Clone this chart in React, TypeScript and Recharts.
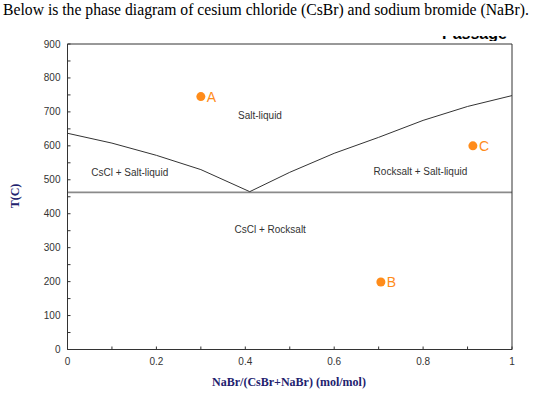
import {
  ComposedChart,
  Line,
  Scatter,
  XAxis,
  YAxis,
  ReferenceLine,
  ReferenceDot,
  LabelList,
} from "recharts";

// left liquidus (CsBr side) down to the eutectic
const leftLiquidus = [
  { x: 0, t: 637 },
  { x: 0.1, t: 608 },
  { x: 0.2, t: 572 },
  { x: 0.3, t: 530 },
  { x: 0.41, t: 465 },
];

// right liquidus (NaBr side)
const rightLiquidus = [
  { x: 0.41, t: 465 },
  { x: 0.5, t: 522 },
  { x: 0.6, t: 578 },
  { x: 0.7, t: 625 },
  { x: 0.8, t: 675 },
  { x: 0.9, t: 716 },
  { x: 1, t: 748 },
];

const eutecticT = 463;

const points = [
  { x: 0.3, t: 745, name: "A" },
  { x: 0.705, t: 199, name: "B" },
  { x: 0.912, t: 600, name: "C" },
];

const regionLabels = [
  { x: 0.433, t: 689, text: "Salt-liquid" },
  { x: 0.14, t: 522, text: "CsCl + Salt-liquid" },
  { x: 0.794, t: 526, text: "Rocksalt + Salt-liquid" },
  { x: 0.456, t: 355, text: "CsCl + Rocksalt" },
];

const xTicks = [0, 0.1, 0.2, 0.3, 0.4, 0.5, 0.6, 0.7, 0.8, 0.9, 1];
const xLabels: Record<string, string> = {
  "0": "0",
  "0.2": "0.2",
  "0.4": "0.4",
  "0.6": "0.6",
  "0.8": "0.8",
  "1": "1",
};
const yTicks = [0, 50, 100, 150, 200, 250, 300, 350, 400, 450, 500, 550, 600, 650, 700, 750, 800, 850, 900];

const AXIS = "#333";
const ORANGE = "#ff8c1a";
const SANS = "'Liberation Sans', Arial, sans-serif";
const SERIF = "'Liberation Serif', 'Times New Roman', serif";

const BottomTick = (p: any) => {
  const v = p.payload.value;
  const label = xLabels[String(Math.round(v * 10) / 10)];
  return (
    <g>
      <line x1={p.x} y1={p.y} x2={p.x} y2={p.y - 3} stroke={AXIS} />
      {label !== undefined && (
        <text x={p.x} y={p.y + 15} textAnchor="middle" fontSize={10} fill={AXIS} fontFamily={SANS}>
          {label}
        </text>
      )}
    </g>
  );
};

const TopTick = (p: any) => (
  <line x1={p.x} y1={p.y} x2={p.x} y2={p.y + 3} stroke={AXIS} />
);

const LeftTick = (p: any) => {
  const v = p.payload.value;
  return (
    <g>
      <line x1={p.x} y1={p.y} x2={p.x + 3} y2={p.y} stroke={AXIS} />
      {v % 100 === 0 && (
        <text x={p.x - 7} y={p.y + 3.5} textAnchor="end" fontSize={10} fill={AXIS} fontFamily={SANS}>
          {v}
        </text>
      )}
    </g>
  );
};

const RightTick = (p: any) => (
  <line x1={p.x} y1={p.y} x2={p.x - 3} y2={p.y} stroke={AXIS} />
);

export default function App() {
  return (
    <div style={{ position: "absolute", left: 0, top: 0, width: 554, height: 397, background: "#fff" }}>
      <div
        style={{
          position: "absolute",
          left: 3,
          top: 1,
          fontFamily: SERIF,
          fontSize: 15.7,
          color: "#000",
          whiteSpace: "nowrap",
        }}
      >
        Below is the phase diagram of cesium chloride (CsBr) and sodium bromide (NaBr).
      </div>
      <div style={{ position: "absolute", left: 442, top: 36, width: 72, height: 5, overflow: "hidden" }}>
        <div
          style={{
            position: "absolute",
            left: 0,
            top: -10.5,
            fontFamily: SANS,
            fontWeight: "bold",
            fontSize: 16,
            lineHeight: "16px",
            whiteSpace: "nowrap",
          }}
        >
          Passage
        </div>
      </div>
      <ComposedChart
        width={554}
        height={397}
        margin={{ top: 42, right: 40, bottom: 27.5, left: 37.5 }}
        style={{ position: "absolute", left: 0, top: 0 }}
      >
        <XAxis
          xAxisId="b"
          type="number"
          dataKey="x"
          domain={[0, 1]}
          ticks={xTicks}
          interval={0}
          height={20}
          tickSize={0}
          tickMargin={0}
          tickLine={false}
          axisLine={{ stroke: AXIS }}
          tick={(p: any) => <BottomTick {...p} />}
        />
        <XAxis
          xAxisId="t"
          orientation="top"
          type="number"
          dataKey="x"
          domain={[0, 1]}
          ticks={xTicks}
          interval={0}
          height={2}
          tickSize={0}
          tickMargin={0}
          tickLine={false}
          axisLine={{ stroke: AXIS }}
          tick={(p: any) => <TopTick {...p} />}
        />
        <YAxis
          yAxisId="l"
          type="number"
          domain={[0, 900]}
          ticks={yTicks}
          interval={0}
          width={30}
          tickSize={0}
          tickMargin={0}
          tickLine={false}
          axisLine={{ stroke: AXIS }}
          tick={(p: any) => <LeftTick {...p} />}
        />
        <YAxis
          yAxisId="r"
          orientation="right"
          type="number"
          domain={[0, 900]}
          ticks={yTicks}
          interval={0}
          width={2}
          tickSize={0}
          tickMargin={0}
          tickLine={false}
          axisLine={{ stroke: AXIS }}
          tick={(p: any) => <RightTick {...p} />}
        />
        <ReferenceLine xAxisId="b" yAxisId="l" y={eutecticT} stroke="#8a8a8a" strokeWidth={1.8} />
        <Line
          xAxisId="b"
          yAxisId="l"
          data={leftLiquidus}
          dataKey="t"
          type="linear"
          stroke="#333"
          strokeWidth={1}
          dot={false}
          activeDot={false}
          isAnimationActive={false}
        />
        <Line
          xAxisId="b"
          yAxisId="l"
          data={rightLiquidus}
          dataKey="t"
          type="linear"
          stroke="#333"
          strokeWidth={1}
          dot={false}
          activeDot={false}
          isAnimationActive={false}
        />
        {regionLabels.map((r) => (
          <ReferenceDot
            key={r.text}
            xAxisId="b"
            yAxisId="l"
            x={r.x}
            y={r.t}
            r={0}
            fill="none"
            stroke="none"
            label={{ value: r.text, position: "center", fontSize: 10, fill: "#333", fontFamily: SANS }}
          />
        ))}
        <Scatter
          xAxisId="b"
          yAxisId="l"
          data={points}
          dataKey="t"
          isAnimationActive={false}
          shape={(p: any) => <circle cx={p.cx} cy={p.cy} r={4.5} fill={ORANGE} />}
        >
          <LabelList
            dataKey="name"
            content={(p: any) => (
              <text
                x={p.x + p.width / 2 + 6}
                y={p.y + p.height / 2 + 5}
                fontSize={14}
                fill={ORANGE}
                fontFamily={SANS}
              >
                {p.value}
              </text>
            )}
          />
        </Scatter>
      </ComposedChart>
      <div
        style={{
          position: "absolute",
          left: 15,
          top: 196,
          transform: "translate(-50%, -50%) rotate(-90deg)",
          fontFamily: SERIF,
          fontWeight: "bold",
          fontSize: 12,
          color: "#22226e",
          whiteSpace: "nowrap",
        }}
      >
        T(C)
      </div>
      <div
        style={{
          position: "absolute",
          left: 289,
          top: 382,
          transform: "translate(-50%, -50%)",
          fontFamily: SERIF,
          fontWeight: "bold",
          fontSize: 12,
          color: "#22226e",
          whiteSpace: "nowrap",
        }}
      >
        NaBr/(CsBr+NaBr) (mol/mol)
      </div>
    </div>
  );
}
